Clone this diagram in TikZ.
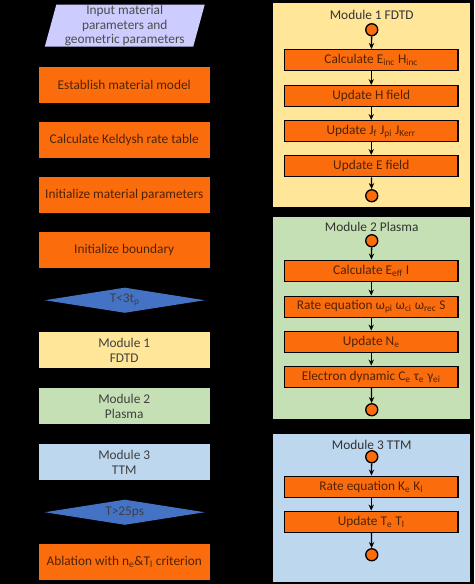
\documentclass[tikz,border=0pt]{standalone}
\usepackage{fontspec}
\setmainfont{Carlito}
\usepackage{tikz}
\usetikzlibrary{arrows.meta,positioning,shapes.geometric}
\usepackage{xcolor}

\definecolor{steporange}{RGB}{250,108,12}
\definecolor{steptext}{RGB}{80,35,5}
\definecolor{inputlav}{RGB}{204,204,255}
\definecolor{loopblue}{RGB}{68,114,196}
\definecolor{modyellow}{RGB}{255,230,153}
\definecolor{modgreen}{RGB}{197,224,180}
\definecolor{modblue}{RGB}{189,215,238}

\begin{document}
\begin{tikzpicture}[
    x=0.75pt, y=-0.75pt,
    every node/.style={font=\fontsize{10}{10.8}\selectfont},
    box/.style={minimum width=128pt, minimum height=27pt, align=center, inner sep=1pt},
    stepbox/.style={box, fill=steporange, text=steptext},
    modbox/.style={box, text=black!75},
    inputbox/.style={trapezium, trapezium left angle=76, trapezium right angle=104, trapezium stretches=true,
      fill=inputlav, text=black!70, minimum width=120pt, minimum height=31.5pt, inner sep=0pt, align=center},
    loop/.style={diamond, aspect=6, fill=loopblue, text=black!75, minimum width=120pt, minimum height=19pt, inner sep=0pt},
    panel/.style={minimum width=147.75pt, inner sep=0pt},
    title/.style={text=black!80},
    inner/.style={draw=black, line width=1pt, fill=steporange, text=steptext, minimum width=130pt, minimum height=15.75pt, inner sep=0pt},
    dot/.style={circle, draw=black, line width=1pt, fill=steporange, minimum size=9pt, inner sep=0pt},
    arrow/.style={-{Stealth[length=4.5pt, width=4pt]}, line width=1pt}
  ]

  % Background
  \node[fill=black, anchor=north west, minimum width=355.5pt, minimum height=438pt, inner sep=0pt] (bg) at (0,0) {};

  % Main flow
  \node[inputbox] (input) at (125,26) {Input material\\parameters and\\geometric parameters};
  \node[stepbox] (model) at (124.5,85) {Establish material model};
  \node[stepbox] (keldysh) at (124.5,140) {Calculate Keldysh rate table};
  \node[stepbox] (initmat) at (124.5,195) {Initialize material parameters};
  \node[stepbox] (initbound) at (124.5,250) {Initialize boundary};
  \node[loop] (looppulse) at (125,300.5) {T<3t\textsubscript{p}};
  \node[modbox, fill=modyellow] (mod1) at (124.5,350.5) {Module 1\\FDTD};
  \node[modbox, fill=modgreen] (mod2) at (124.5,406.5) {Module 2\\Plasma};
  \node[modbox, fill=modblue] (mod3) at (124.5,462.5) {Module 3\\TTM};
  \node[loop] (looptime) at (125,512.5) {T>25ps};
  \node[stepbox] (ablation) at (124.5,562.5) {Ablation with n\textsubscript{e}\&T\textsubscript{l} criterion};

  % Module 1 FDTD
  \node[panel, fill=modyellow, minimum height=153pt] (fdtd) at (371.5,105) {};
  \node[title] (fdtdtitle) at (372,15) {Module 1 FDTD};
  \node[dot] (fdtdin) at (372,30) {};
  \node[inner] (einc) at (371.5,60.5) {Calculate E\textsubscript{inc} H\textsubscript{inc}};
  \node[inner] (hfield) at (371.5,96.5) {Update H field};
  \node[inner] (jcur) at (371.5,131.5) {Update J\textsubscript{f} J\textsubscript{pi} J\textsubscript{Kerr}};
  \node[inner] (efield) at (371.5,166.5) {Update E field};
  \node[dot] (fdtdout) at (372,196) {};

  % Module 2 Plasma
  \node[panel, fill=modgreen, minimum height=151.5pt] (plasma) at (371.5,318) {};
  \node[title] (plasmatitle) at (372,227) {Module 2 Plasma};
  \node[dot] (plasmain) at (372,241) {};
  \node[inner] (eeff) at (371.5,271) {Calculate E\textsubscript{eff} I};
  \node[inner] (rate) at (371.5,307) {Rate equation ω\textsubscript{pi} ω\textsubscript{ci} ω\textsubscript{rec} S};
  \node[inner] (ne) at (371.5,342) {Update N\textsubscript{e}};
  \node[inner] (edyn) at (371.5,377) {Electron dynamic C\textsubscript{e} τ\textsubscript{e} γ\textsubscript{ei}};
  \node[dot] (plasmaout) at (372,410) {};

  % Module 3 TTM
  \node[panel, fill=modblue, minimum height=111pt] (ttm) at (371.5,508) {};
  \node[title] (ttmtitle) at (372,445) {Module 3 TTM};
  \node[dot] (ttmin) at (372,457) {};
  \node[inner] (kcoef) at (371.5,487) {Rate equation K\textsubscript{e} K\textsubscript{l}};
  \node[inner] (temp) at (371.5,522) {Update T\textsubscript{e} T\textsubscript{l}};
  \node[dot] (ttmout) at (372,555) {};

  % Connections
  \draw[arrow] (fdtdin) -- (einc);
  \draw[arrow] (einc) -- (hfield);
  \draw[arrow] (hfield) -- (jcur);
  \draw[arrow] (jcur) -- (efield);
  \draw[arrow] (efield) -- (fdtdout);

  \draw[arrow] (plasmain) -- (eeff);
  \draw[arrow] (eeff) -- (rate);
  \draw[arrow] (rate) -- (ne);
  \draw[arrow] (ne) -- (edyn);
  \draw[arrow] (edyn) -- (plasmaout);

  \draw[arrow] (ttmin) -- (kcoef);
  \draw[arrow] (kcoef) -- (temp);
  \draw[arrow] (temp) -- (ttmout);

\end{tikzpicture}
\end{document}
